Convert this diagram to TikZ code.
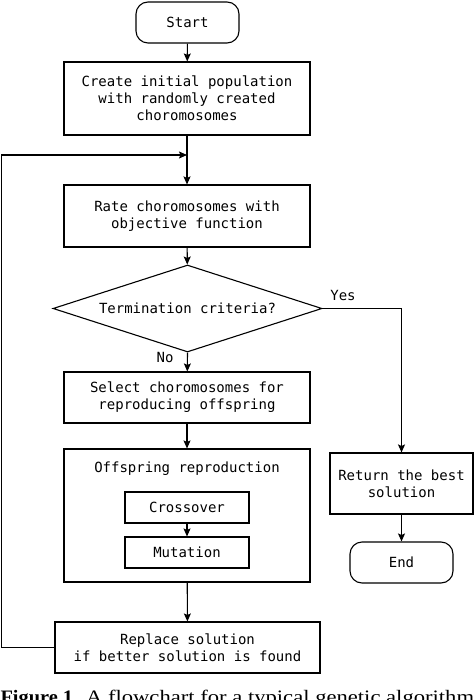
\documentclass[tikz,border=0pt]{standalone}
\usepackage{fontspec}
\setmainfont{Liberation Serif}
\newfontfamily\flowfont{DejaVu Sans Mono}
\usetikzlibrary{arrows.meta}
\usetikzlibrary{shapes.geometric}

\begin{document}
\begin{tikzpicture}[x=1pt,y=1pt,yscale=-1,xscale=1,
  line width=1.1pt,
  every node/.style={font=\flowfont\fontsize{14}{17}\selectfont, align=center, inner sep=0.75pt},
  proc/.style={draw, rectangle, line width=1.1pt},
  term/.style={draw, rectangle, rounded corners=12pt, minimum width=103pt, minimum height=41pt},
  cond/.style={draw, diamond, aspect=3.1, inner sep=0pt, minimum width=269pt, minimum height=87pt},
  arr/.style={-{Stealth[length=8pt,width=7pt,inset=1.5pt]}}]
\useasboundingbox (0,0) rectangle (474,700);

%Shape: Rounded Rect [id:start]
\node [term] (start) at (187.5,22.5) {Start};
%Shape: Rectangle [id:create]
\node [proc, minimum width=246pt, minimum height=73pt] (create) at (187,98.5) {Create initial population\\with randomly created\\choromosomes};
%Shape: Rectangle [id:rate]
\node [proc, minimum width=246pt, minimum height=62pt] (rate) at (187,216) {Rate choromosomes with\\objective function};
%Shape: Diamond [id:crit]
\node [cond] (crit) at (187.5,308.5) {Termination criteria?};
%Shape: Rectangle [id:select]
\node [proc, minimum width=246pt, minimum height=51pt] (select) at (187,397.5) {Select choromosomes for\\reproducing offspring};
%Shape: Rectangle [id:offspring]
\node [proc, minimum width=246pt, minimum height=133pt] (offspring) at (187,515.5) {};
% Text Node
\node (offtitle) at (187,469) {Offspring reproduction};
%Shape: Rectangle [id:cross]
\node [proc, minimum width=124pt, minimum height=31pt] (cross) at (187,507.5) {Crossover};
%Shape: Rectangle [id:mut]
\node [proc, minimum width=124pt, minimum height=31pt] (mut) at (187,552.5) {Mutation};
%Shape: Rectangle [id:replace]
\node [proc, minimum width=265pt, minimum height=51pt] (replace) at (187.5,647.5) {Replace solution\\if better solution is found};
%Shape: Rectangle [id:best]
\node [proc, minimum width=143pt, minimum height=61pt] (best) at (401.5,483.5) {Return the best\\solution};
%Shape: Rounded Rect [id:finish]
\node [term] (finish) at (401.5,562.5) {End};

%Straight Lines
\coordinate (merge) at (187,155);
\coordinate (backleft) at (1.5,155);
\draw [arr] (start) -- (create);
\draw [arr] (create) -- (rate);
\draw [arr] (replace.west) -| (backleft) -- (merge);
\draw [arr] (rate) -- (crit);
\draw [arr] (crit.south) -- (select);
\draw [arr] (crit.east) -| (best.north);
\draw [arr] (select) -- (offspring);
\draw [arr] (cross) -- (mut);
\draw [arr] (offspring) -- (replace);
\draw [arr] (best) -- (finish);

% Text Node
\node (yes) at (343,295) {Yes};
% Text Node
\node (no) at (165,357) {No};
% Text Node (caption, cut by the lower edge as in the figure)
\node [font=\rmfamily\fontsize{19}{22}\selectfont, anchor=base west, inner sep=0pt] (caption) at (0,703) {\scalebox{1.07}[1]{\textbf{Figure 1.}}\hspace{8pt}\scalebox{1.19}[1]{A flowchart for a typical genetic algorithm.}};

\end{tikzpicture}
\end{document}
